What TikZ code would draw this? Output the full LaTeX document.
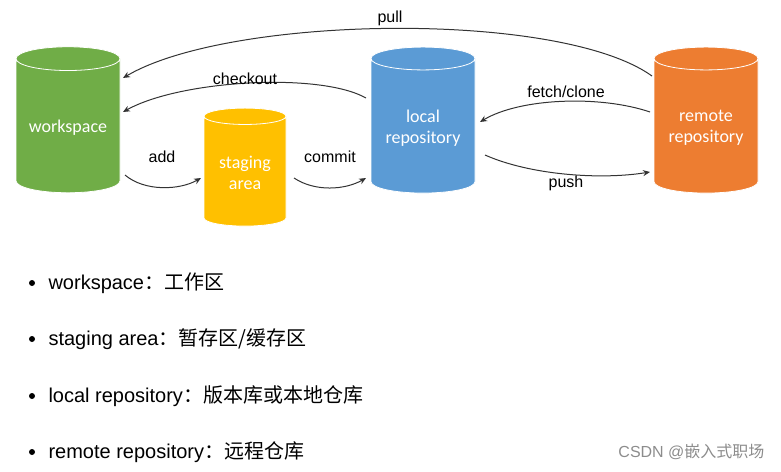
\documentclass[tikz,border=0pt]{standalone}
\usepackage{fontspec}
\setmainfont{Liberation Sans}
\newfontfamily\cjk{Noto Sans CJK SC}
\newfontfamily\repofont{Carlito}
\usetikzlibrary{shapes.geometric, arrows.meta}
\definecolor{wsgreen}{HTML}{70AD47}
\definecolor{stgyellow}{HTML}{FFC000}
\definecolor{locblue}{HTML}{5B9BD5}
\definecolor{remorange}{HTML}{ED7D31}
\tikzset{
  repo/.style = {cylinder, shape border rotate=90, aspect=0.28, draw=white, line width=0.8pt,
                 text=white, align=center, font=\repofont\fontsize{18}{21}\selectfont},
  flow/.style = {-{Stealth[length=7pt,width=6pt]}, line width=1pt, black!80},
  lbl/.style = {font=\fontsize{16}{19}\selectfont},
  item/.style = {anchor=west, font=\fontsize{20}{23}\selectfont}
}
\begin{document}
\begin{tikzpicture}[x=1pt, y=-1pt]
  \useasboundingbox (0,0) rectangle (781,471);
  % repositories
  \node (ws) [repo, fill=wsgreen, minimum width=104pt, minimum height=146pt] at (68,128) {workspace};
  \node (stg) [repo, fill=stgyellow, minimum width=82pt, minimum height=118pt] at (245,173) {staging\\area};
  \node (loc) [repo, fill=locblue, minimum width=104pt, minimum height=146pt] at (423,128) {local\\repository};
  \node (rem) [repo, fill=remorange, minimum width=104pt, minimum height=146pt] at (706,128) {remote\\repository};
  % anchor points for the arrows
  \coordinate (remT) at (652,76);
  \coordinate (wsT) at (123,78);
  \coordinate (locL) at (366,98);
  \coordinate (wsM) at (123,112);
  \coordinate (wsB) at (125,175);
  \coordinate (stgL) at (201,178);
  \coordinate (stgR) at (294,178);
  \coordinate (locB) at (366,178);
  \coordinate (remL) at (650,112);
  \coordinate (locR) at (480,122);
  \coordinate (locR2) at (485,155);
  \coordinate (remL2) at (650,172);
  % connectors
  \draw[flow] (remT) .. controls (560,10) and (230,15) .. (wsT);
  \node (pull) [lbl] at (390,18) {pull};
  \draw[flow] (locL) .. controls (320,72) and (180,80) .. (wsM);
  \node (checkout) [lbl] at (245,79) {checkout};
  \draw[flow] (wsB) .. controls (145,192) and (180,190) .. (stgL);
  \node (add) [lbl] at (162,157) {add};
  \draw[flow] (stgR) .. controls (315,192) and (345,190) .. (locB);
  \node (commit) [lbl] at (330,157) {commit};
  \draw[flow] (remL) .. controls (600,95) and (520,98) .. (locR);
  \node (fetch) [lbl] at (566,92) {fetch/clone};
  \draw[flow] (locR2) .. controls (530,175) and (600,180) .. (remL2);
  \node (push) [lbl] at (566,183) {push};
  % glossary
  \foreach \y/\txt in {283/{workspace{\cjk：工作区}},
                       339/{staging area{\cjk：暂存区/缓存区}},
                       396/{local repository{\cjk：版本库或本地仓库}},
                       452/{remote repository{\cjk：远程仓库}}} {
    \fill (32,\y) circle (3pt);
    \node[item] at (45,\y) {\txt};
  }
  \node (mark) [anchor=east, text=black!45, font=\fontsize{16}{19}\selectfont] at (768,452) {CSDN @{\cjk 嵌入式职场}};
\end{tikzpicture}
\end{document}
